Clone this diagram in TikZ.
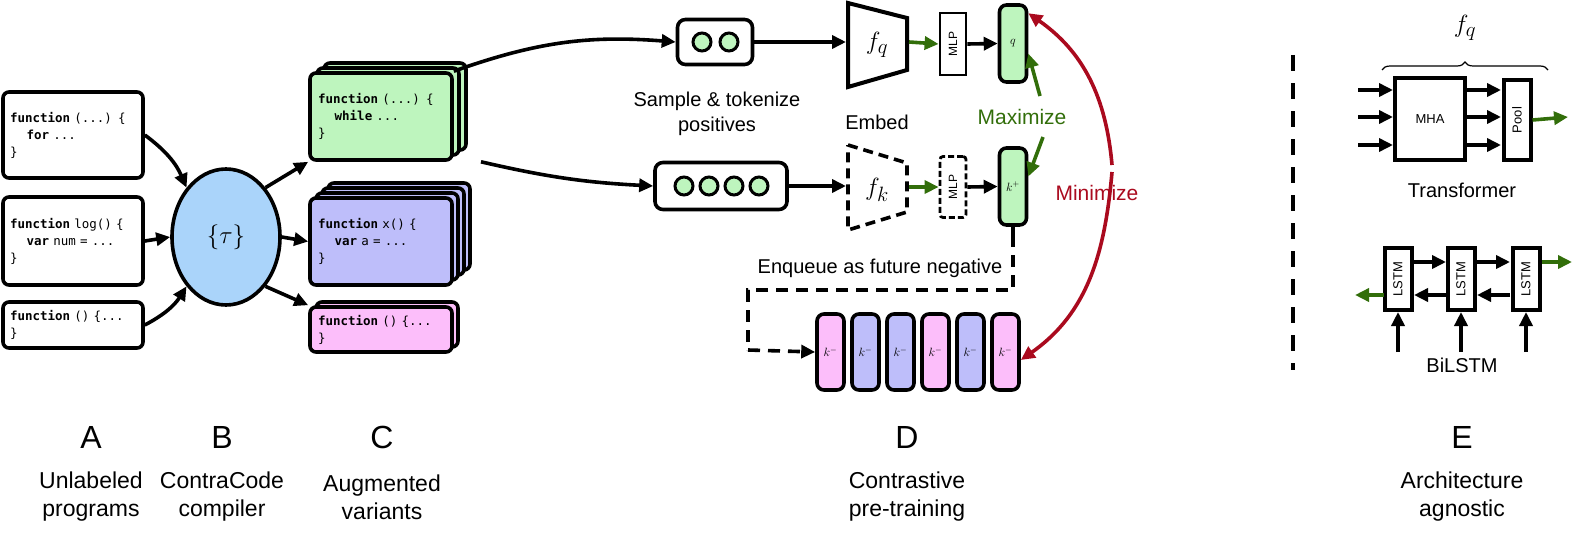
\documentclass[tikz,border=0pt]{standalone}
\usepackage{fontspec}
\setmainfont{Liberation Sans}
\setmonofont{DejaVu Sans Mono}
\usetikzlibrary{arrows.meta,decorations.pathreplacing,shapes.geometric}
\definecolor{cgreen}{RGB}{190,245,190}
\definecolor{cblue}{RGB}{190,190,250}
\definecolor{cpink}{RGB}{252,190,250}
\definecolor{ccirc}{RGB}{170,212,250}
\definecolor{dgreen}{RGB}{50,110,10}
\definecolor{dred}{RGB}{170,10,30}
\begin{document}
\begin{tikzpicture}[x=1pt,y=-1pt,line width=3.6pt,
  >={Triangle[length=14pt,width=13pt]},
  code/.style={draw,rounded corners=6pt,fill=white,font=\ttfamily\fontsize{12.5}{17}\selectfont,align=left,inner sep=0pt},
  vec/.style={draw,rounded corners=7pt,minimum width=27pt,minimum height=76pt,inner sep=0pt,font=\large},
  tok/.style={draw,circle,fill=cgreen,minimum size=18pt,inner sep=0pt,line width=3pt},
  lab/.style={font=\fontsize{23}{28}\selectfont,align=center},
  big/.style={font=\fontsize{32}{34}\selectfont},
  txt/.style={font=\fontsize{20}{25}\selectfont,align=center},
  sm/.style={draw,fill=white,inner sep=0pt,font=\fontsize{12}{13}\selectfont}]
\useasboundingbox (0,0) rectangle (1573,535);
% A
\node[code,minimum width=140pt,minimum height=86pt,text width=126pt] (a1) at (73,135) {\textbf{function} (...) \{\\\quad\ \textbf{for} ...\\\}};
\node[code,minimum width=140pt,minimum height=88pt,text width=126pt] (a2) at (73,241) {\textbf{function} log() \{\\\quad\ \textbf{var} num = ...\\\}};
\node[code,minimum width=140pt,minimum height=46pt,text width=126pt] (a3) at (73,325) {\textbf{function} () \{... \}};
% B
\node[draw,ellipse,fill=ccirc,minimum width=108pt,minimum height=136pt,inner sep=0pt] (b) at (226,237) {\fontsize{32}{34}\selectfont$\{\tau\}$};
% C
\foreach \i in {2,1} \draw[fill=cgreen,rounded corners=6pt] (310+7*\i,73-5*\i) rectangle ++(142,87);
\node[code,fill=cgreen,minimum width=142pt,minimum height=87pt,text width=126pt] (c1) at (381,116.5) {\textbf{function} (...) \{\\\quad\ \textbf{while} ...\\\}};
\foreach \i in {3,2,1} \draw[fill=cblue,rounded corners=6pt] (310+6*\i,198-5*\i) rectangle ++(142,87);
\node[code,fill=cblue,minimum width=142pt,minimum height=87pt,text width=126pt] (c2) at (381,241.5) {\textbf{function} x() \{\\\quad\ \textbf{var} a = ...\\\}};
\draw[fill=cpink,rounded corners=6pt] (316,302) rectangle ++(142,45);
\node[code,fill=cpink,minimum width=142pt,minimum height=45pt,text width=126pt] (c3) at (381,329.5) {\textbf{function} () \{... \}};
\draw[->] (a1.east) to[bend left=15] (b.north west);
\draw[->] (a2.east) -- (b.west);
\draw[->] (a3.east) to[bend right=15] (b.south west);
\draw[->] (b.north east) -- (c1.west|-c1.south);
\draw[->] (b.east) -- (c2.west);
\draw[->] (b.south east) -- (c3.north west);
% D tokens
\node[draw,rounded corners=8pt,minimum width=75pt,minimum height=45pt] (t1) at (715,42) {};
\node[tok] (t1a) at (702,42) {}; \node[tok] at (729,42) {};
\node[draw,rounded corners=8pt,minimum width=132pt,minimum height=47pt] (t2) at (721,186) {};
\foreach \x in {684,709,734,759} \node[tok] at (\x,186) {};
\draw[->] (c1.north east) to[bend left=12] (t1.west);
\draw[->] ([xshift=100pt]c1.south) to[bend left=-5] (t2.west);
\node[txt] (st) at (717,114) {Sample \& tokenize\\positives};
% encoders
\draw[line width=4pt] (848,3) -- (907,18) -- (907,70) -- (848,87) -- cycle;
\node at (877,45) {\fontsize{32}{34}\selectfont$f_q$};
\draw[line width=3.6pt,dash pattern=on 10pt off 6pt] (848,145) -- (907,163) -- (907,212) -- (848,230) -- cycle;
\node at (877,190) {\fontsize{32}{34}\selectfont$f_k$};
\node[txt] (emb) at (877,122) {Embed};
\draw[->] (t1.east) -- (846,42);
\draw[->] (t2.east) -- (846,186);
\node[sm,minimum width=26pt,minimum height=62pt,line width=2.8pt] (m1) at (953,44) {\rotatebox{90}{MLP}};
\node[sm,minimum width=26pt,minimum height=61pt,line width=2.8pt,dash pattern=on 6pt off 3pt,rounded corners=3pt] (m2) at (953,187) {\rotatebox{90}{MLP}};
\draw[->,dgreen] (909,42) -- (m1.west);
\draw[->,dgreen] (909,187) -- (m2.west);
\node[vec,fill=cgreen,minimum height=77pt] (q) at (1013,43.5) {$q$};
\node[vec,fill=cgreen,minimum height=77pt] (kp) at (1013,186.5) {$k^+$};
\draw[->] (m1.east) -- (q.west);
\draw[->] (m2.east) -- (kp.west);
\node[txt,dgreen,font=\fontsize{21}{25}\selectfont] (mx) at (1022,117) {Maximize};
\draw[->,dgreen] (1040,96) -- ([yshift=-10pt]q.east);
\draw[->,dgreen] (1043,137) -- ([yshift=10pt]kp.east);
\node[txt,dred,font=\fontsize{21}{25}\selectfont] (mn) at (1097,193) {Minimize};
% negatives
\foreach \c/\n [count=\i from 0] in {cpink/n0,cblue/n1,cblue/n2,cpink/n3,cblue/n4,cpink/n5}
  \node[vec,fill=\c] (\n) at (830.5+35*\i,352) {$k^-$};
\draw[->,dred] (1112,172) to[out=-95,in=35] ([yshift=-8pt]n5.east);
\draw[->,dred] (1112,165) to[out=95,in=-35] ([yshift=-10pt]q.north east);
\node[txt] (enq) at (880,268) {Enqueue as future negative};
\draw (kp.south) -- (1013,247);
\coordinate (d1) at (1013,290); \coordinate (d2) at (748,290);
\draw[dash pattern=on 12pt off 8pt] (1013,255) -- (d1) -- (d2) -- (748,350);
\draw[->,dash pattern=on 12pt off 8pt] (748,350) -- (n0.west);
% E
\draw[dash pattern=on 16pt off 12pt] (1293,55) -- (1293,370);
\node[draw,line width=4pt,minimum width=70pt,minimum height=82pt,inner sep=0pt,font=\fontsize{13}{14}\selectfont] (mha) at (1430,119) {MHA};
\node[sm,line width=4pt,minimum width=27pt,minimum height=80pt,font=\fontsize{13}{14}\selectfont] (pool) at (1517,120) {\rotatebox{90}{Pool}};
\draw[decorate,decoration={brace,amplitude=8pt},line width=1.2pt] (1382,70) -- (1548,70);
\node at (1465,28) {\fontsize{32}{34}\selectfont$f_q$};
\foreach \y in {90,117,145} {\draw[->] (1358,\y) -- (1393,\y); \draw[->] (1467,\y) -- (1501,\y);}
\draw[->,dgreen] (pool.east) -- (1568,117);
\node[txt] at (1462,190) {Transformer};
\foreach \x/\n in {1398/l1,1461/l2,1526/l3} \node[sm,line width=4pt,minimum width=27pt,minimum height=62pt,font=\fontsize{13}{14}\selectfont] (\n) at (\x,279) {\rotatebox{90}{LSTM}};
\draw[->] (1414,262) -- (1446,262);
\draw[->] (1477,262) -- (1510,262);
\draw[->] (1446,295) -- (1414,295);
\draw[->] (1510,295) -- (1477,295);
\draw[->,dgreen] (1542,262) -- (1572,262);
\draw[->,dgreen] (1384,295) -- (1355,295);
\foreach \n in {l1,l2,l3} \draw[->] ([yshift=-40pt]\n.south) -- (\n.south);
\node[txt] at (1462,365) {BiLSTM};
% bottom labels
\foreach \x/\L/\t in {91/A/Unlabeled\\programs,222/B/ContraCode\\compiler,382/C/Augmented\\variants,907/D/Contrastive\\pre-training,1462/E/Architecture\\agnostic}{
  \node[big] at (\x,437) {\L};
  \node[lab] at (\x,497) {\t};}
\end{tikzpicture}
\end{document}
